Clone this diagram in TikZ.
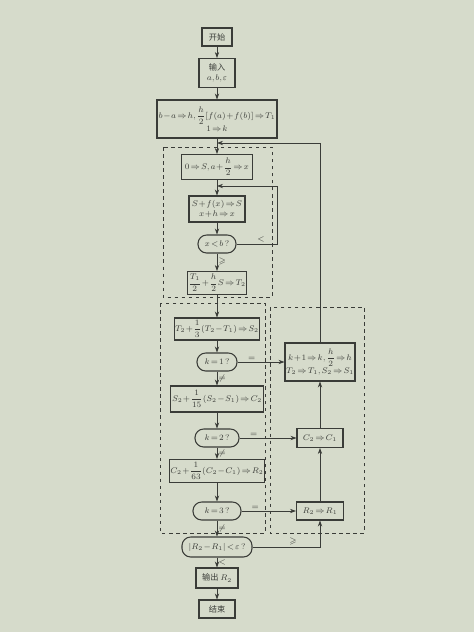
\documentclass[tikz,border=0pt]{standalone}
\usepackage{amsmath,amssymb}
\usepackage{fontspec}
\newfontfamily\cjk{Noto Sans CJK SC}
\usetikzlibrary{arrows.meta, positioning}
\definecolor{paper}{RGB}{214,219,203}
\definecolor{ink}{RGB}{58,60,56}
\newcommand{\tightmath}{\scriptsize\thickmuskip=2mu\medmuskip=1mu\thinmuskip=1mu}
\tikzset{procbox/.style={rectangle,draw=ink,text=ink,line width=0.9pt,align=center,inner sep=1pt,font=\tightmath},
         testbox/.style={rectangle,draw=ink,text=ink,line width=0.9pt,rounded corners=2.6mm,align=center,inner sep=1pt,minimum height=0.54cm,font=\tightmath},
         group/.style={draw=ink,dashed,line width=0.6pt},
         arrow/.style={-{Stealth[length=1.8mm,width=1.3mm]},draw=ink,line width=0.6pt},
         cond/.style={font=\scriptsize,text=ink,inner sep=1pt}}

\begin{document}
\begin{tikzpicture}[x=0.03cm,y=-0.03cm]
    \useasboundingbox[fill=paper] (0,0) rectangle (474,632);
    % Main column
    \node (start) at (217,37) [procbox,minimum width=0.9cm,minimum height=0.54cm]{\cjk 开始};
    \node (input) at (217,73) [procbox,minimum width=1.08cm,minimum height=0.87cm]{\cjk 输入\\$a,b,\varepsilon$};
    \node (init) at (217,119) [procbox,minimum width=3.6cm,minimum height=1.14cm]{$b-a\Rightarrow h,\,\dfrac{h}{2}[f(a)+f(b)]\Rightarrow T_1$\\$1\Rightarrow k$};
    \node (szero) at (217,167) [procbox,minimum width=2.13cm,minimum height=0.75cm]{$0\Rightarrow S,\,a+\dfrac{h}{2}\Rightarrow x$};
    \node (sum) at (217,209) [procbox,minimum width=1.68cm,minimum height=0.78cm]{$S+f(x)\Rightarrow S$\\$x+h\Rightarrow x$};
    \node (xlt) at (217,244) [testbox,minimum width=1.14cm]{$x<b$\,?};
    \node (ttwo) at (217,283) [procbox,minimum width=1.74cm,minimum height=0.69cm]{$\dfrac{T_1}{2}+\dfrac{h}{2}S\Rightarrow T_2$};
    \node (stwo) at (217,329) [procbox,minimum width=2.49cm,minimum height=0.66cm]{$T_2+\dfrac{1}{3}(T_2-T_1)\Rightarrow S_2$};
    \node (kone) at (217,362) [testbox,minimum width=1.2cm]{$k=1$\,?};
    \node (ctwo) at (217,399) [procbox,minimum width=2.52cm,minimum height=0.78cm]{$S_2+\dfrac{1}{15}(S_2-S_1)\Rightarrow C_2$};
    \node (ktwo) at (217,438) [testbox,minimum width=1.32cm]{$k=2$\,?};
    \node (rtwo) at (217,471) [procbox,minimum width=2.7cm,minimum height=0.69cm]{$C_2+\dfrac{1}{63}(C_2-C_1)\Rightarrow R_2$};
    \node (kthree) at (217,511) [testbox,minimum width=1.44cm]{$k=3$\,?};
    \node (eps) at (217,547) [testbox,minimum width=2.1cm,minimum height=0.6cm]{$|R_2-R_1|<\varepsilon$\,?};
    \node (output) at (217,578) [procbox,minimum width=1.26cm,minimum height=0.6cm]{\cjk 输出\ $R_2$};
    \node (stop) at (217,609) [procbox,minimum width=1.08cm,minimum height=0.54cm]{\cjk 结束};
    % Right column
    \node (update) at (320,362) [procbox,minimum width=2.1cm,minimum height=1.14cm]{$k+1\Rightarrow k,\,\dfrac{h}{2}\Rightarrow h$\\$T_2\Rightarrow T_1,\,S_2\Rightarrow S_1$};
    \node (cshift) at (320,438) [procbox,minimum width=1.38cm,minimum height=0.57cm]{$C_2\Rightarrow C_1$};
    \node (rshift) at (320,511) [procbox,minimum width=1.41cm,minimum height=0.54cm]{$R_2\Rightarrow R_1$};
    % Dashed groups
    \draw[group] (163,147) rectangle (272,297);
    \draw[group] (160,303) rectangle (265,533);
    \draw[group] (270,307) rectangle (364,533);
    % Helper points
    \coordinate (loopin) at (217,186);
    \coordinate (backin) at (217,143);
    % Main flow
    \draw[arrow] (start) -- (input);
    \draw[arrow] (input) -- (init);
    \draw[arrow] (init) -- (szero);
    \draw[arrow] (szero) -- (sum);
    \draw[arrow] (sum) -- (xlt);
    \draw[arrow] (xlt) -- node[cond,right,pos=0.45]{$\geqslant$} (ttwo);
    \draw[arrow] (ttwo) -- (stwo);
    \draw[arrow] (stwo) -- (kone);
    \draw[arrow] (kone) -- node[cond,right]{$\neq$} (ctwo);
    \draw[arrow] (ctwo) -- (ktwo);
    \draw[arrow] (ktwo) -- node[cond,right]{$\neq$} (rtwo);
    \draw[arrow] (rtwo) -- (kthree);
    \draw[arrow] (kthree) -- node[cond,right]{$\neq$} (eps);
    \draw[arrow] (eps) -- node[cond,right]{$<$} (output);
    \draw[arrow] (output) -- (stop);
    % Inner loop
    \draw[arrow] (xlt.east) -- node[cond,above,pos=0.6]{$<$} ++(41,0) |- (loopin);
    % Branches to the right
    \draw[arrow] (kone) -- node[cond,above,pos=0.3]{$=$} (update);
    \draw[arrow] (ktwo) -- node[cond,above,pos=0.25]{$=$} (cshift);
    \draw[arrow] (kthree) -- node[cond,above,pos=0.25]{$=$} (rshift);
    \draw[arrow] (eps.east) -| node[cond,above,pos=0.3]{$\geqslant$} (rshift.south);
    % Right column upwards
    \draw[arrow] (rshift) -- (cshift);
    \draw[arrow] (cshift) -- (update);
    \draw[arrow] (update.north) |- (backin);
  \end{tikzpicture}
\end{document}
